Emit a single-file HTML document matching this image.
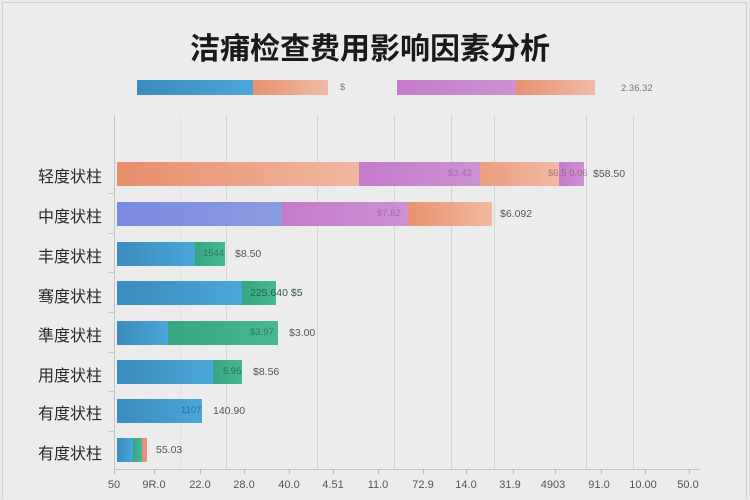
<!DOCTYPE html>
<html><head><meta charset="utf-8"><style>
*{margin:0;padding:0;box-sizing:border-box}
body{width:750px;height:500px;background:#ebebeb;position:relative;overflow:hidden;font-family:"Liberation Sans","Noto Sans CJK SC",sans-serif}
.frame{position:absolute;left:2px;top:2px;width:745px;height:497px;border:1px solid #cfcfcf;border-bottom:none;background:#ececec}
.t{position:absolute;white-space:nowrap}
.title{left:0;width:740px;top:24px;text-align:center;font-size:30px;font-weight:bold;color:#1a1a1a;font-family:"Liberation Sans","Noto Sans CJK SC",sans-serif;letter-spacing:0px}
.g{position:absolute;top:115px;height:354px;width:1px;background:#d6d6d6}
.b{position:absolute;height:24px}
.cat{position:absolute;left:30px;width:72px;text-align:right;font-size:16px;color:#2a2a2a;font-family:"Liberation Sans","Noto Sans CJK SC",sans-serif}
.v{position:absolute;font-size:10.5px;color:#555;white-space:nowrap}
.in{position:absolute;font-size:9.5px;white-space:nowrap}
.tk{position:absolute;top:479px;font-size:11px;color:#555;width:40px;text-align:center}
.tm{position:absolute;top:469px;width:1px;height:5px;background:#bbb}
.lt{position:absolute;left:108px;width:6px;height:1px;background:#ccc}
.blue{background:linear-gradient(90deg,#3a8cbc,#4ba6d8)}
.green{background:linear-gradient(90deg,#37a683,#47b893)}
.orange{background:linear-gradient(90deg,#e8916f,#f1b8a2)}
.purple{background:linear-gradient(90deg,#c47bcb,#cc92d2)}
</style></head><body>
<div class="frame"></div>
<div class="t title">洁痡检查费用影响因素分析</div>

<!-- legend -->
<div class="b blue" style="left:137px;top:80px;width:116px;height:15px"></div>
<div class="b" style="left:253px;top:80px;width:75px;height:15px;background:linear-gradient(90deg,#e8926f,#efbba6)"></div>
<div class="v" style="left:340px;top:82px;font-size:9px;color:#777">$</div>
<div class="b purple" style="left:397px;top:80px;width:119px;height:15px"></div>
<div class="b" style="left:516px;top:80px;width:79px;height:15px;background:linear-gradient(90deg,#e8926f,#efbba6)"></div>
<div class="v" style="left:621px;top:83px;font-size:9.5px;color:#777">2.36.32</div>

<!-- grid -->
<div class="g" style="left:180px;background:#e0e0e0"></div>
<div class="g" style="left:226px"></div>
<div class="g" style="left:317px"></div>
<div class="g" style="left:394px"></div>
<div class="g" style="left:451px"></div>
<div class="g" style="left:494px"></div>
<div class="g" style="left:586px"></div>
<div class="g" style="left:633px"></div>
<div class="g" style="left:114px;background:#c4c4c4"></div>
<div style="position:absolute;left:114px;top:469px;width:586px;height:1px;background:#c4c4c4"></div>

<div class="lt" style="top:193px"></div>
<div class="lt" style="top:233px"></div>
<div class="lt" style="top:272px"></div>
<div class="lt" style="top:312px"></div>
<div class="lt" style="top:352px"></div>
<div class="lt" style="top:391px"></div>
<div class="lt" style="top:431px"></div>

<!-- categories -->
<div class="cat" style="top:163px">轻度状柱</div>
<div class="cat" style="top:203px">中度状柱</div>
<div class="cat" style="top:243px">丰度状柱</div>
<div class="cat" style="top:283px">骞度状柱</div>
<div class="cat" style="top:322px">準度状柱</div>
<div class="cat" style="top:362px">用度状柱</div>
<div class="cat" style="top:400px">有度状柱</div>
<div class="cat" style="top:440px">有度状柱</div>

<!-- bar 1 -->
<div class="b" style="left:117px;top:162px;width:242px;background:linear-gradient(90deg,#e78e6c,#f0b7a0)"></div>
<div class="b purple" style="left:359px;top:162px;width:121px"></div>
<div class="b" style="left:480px;top:162px;width:79px;background:linear-gradient(90deg,#eb9e80,#f1b8a2)"></div>
<div class="b purple" style="left:559px;top:162px;width:25px"></div>
<div class="in" style="left:448px;top:168px;color:rgba(120,60,120,.45)">$3.43</div>
<div class="in" style="left:548px;top:168px;color:rgba(120,70,90,.55)">$6.5 0.06</div>
<div class="v" style="left:593px;top:168px">$58.50</div>

<!-- bar 2 -->
<div class="b" style="left:117px;top:202px;width:165px;background:linear-gradient(90deg,#7a8ae2,#8a9ce0)"></div>
<div class="b purple" style="left:282px;top:202px;width:126px"></div>
<div class="b" style="left:408px;top:202px;width:84px;background:linear-gradient(90deg,#e8926f,#f1b8a2)"></div>
<div class="in" style="left:377px;top:208px;color:rgba(120,60,120,.45)">$7.82</div>
<div class="v" style="left:500px;top:208px">$6.092</div>

<!-- bar 3 -->
<div class="b blue" style="left:117px;top:242px;width:78px"></div>
<div class="b green" style="left:195px;top:242px;width:30px"></div>
<div class="in" style="left:203px;top:248px;color:rgba(20,90,70,.6)">1544</div>
<div class="v" style="left:235px;top:248px">$8.50</div>

<!-- bar 4 -->
<div class="b blue" style="left:117px;top:281px;width:125px"></div>
<div class="b green" style="left:242px;top:281px;width:34px"></div>
<div class="v" style="left:250px;top:287px;color:#2e5e52">225.640 $5</div>

<!-- bar 5 -->
<div class="b blue" style="left:117px;top:321px;width:51px"></div>
<div class="b green" style="left:168px;top:321px;width:110px"></div>
<div class="in" style="left:250px;top:327px;color:rgba(20,90,70,.6)">$3.97</div>
<div class="v" style="left:289px;top:327px">$3.00</div>

<!-- bar 6 -->
<div class="b blue" style="left:117px;top:360px;width:96px"></div>
<div class="b green" style="left:213px;top:360px;width:29px"></div>
<div class="in" style="left:223px;top:366px;color:rgba(20,90,70,.7)">5.95</div>
<div class="v" style="left:253px;top:366px">$8.56</div>

<!-- bar 7 -->
<div class="b blue" style="left:117px;top:399px;width:85px"></div>
<div class="in" style="left:181px;top:405px;color:rgba(20,70,110,.5)">1107</div>
<div class="v" style="left:213px;top:405px">140.90</div>

<!-- bar 8 -->
<div class="b blue" style="left:117px;top:438px;width:16px"></div>
<div class="b green" style="left:133px;top:438px;width:9px"></div>
<div class="b" style="left:142px;top:438px;width:5px;background:#e8917a"></div>
<div class="v" style="left:156px;top:444px">55.03</div>

<!-- ticks -->
<div class="tm" style="left:114px"></div><div class="tm" style="left:154px"></div><div class="tm" style="left:200px"></div><div class="tm" style="left:244px"></div><div class="tm" style="left:289px"></div><div class="tm" style="left:333px"></div><div class="tm" style="left:378px"></div><div class="tm" style="left:423px"></div><div class="tm" style="left:466px"></div><div class="tm" style="left:513px"></div><div class="tm" style="left:555px"></div><div class="tm" style="left:601px"></div><div class="tm" style="left:645px"></div><div class="tm" style="left:689px"></div>
<div class="tk" style="left:94px">50</div>
<div class="tk" style="left:134px">9R.0</div>
<div class="tk" style="left:180px">22.0</div>
<div class="tk" style="left:224px">28.0</div>
<div class="tk" style="left:269px">40.0</div>
<div class="tk" style="left:313px">4.51</div>
<div class="tk" style="left:358px">11.0</div>
<div class="tk" style="left:403px">72.9</div>
<div class="tk" style="left:446px">14.0</div>
<div class="tk" style="left:490px">31.9</div>
<div class="tk" style="left:533px">4903</div>
<div class="tk" style="left:579px">91.0</div>
<div class="tk" style="left:623px">10.00</div>
<div class="tk" style="left:668px">50.0</div>
</body></html>
